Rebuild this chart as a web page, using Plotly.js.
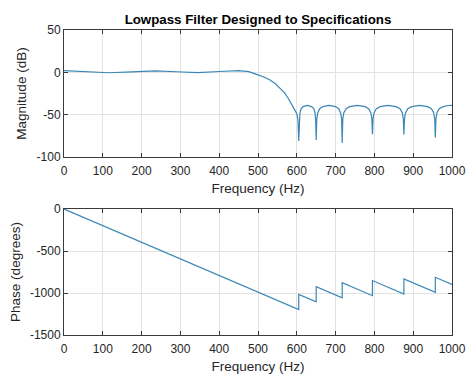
<!DOCTYPE html>
<html>
<head>
<meta charset="utf-8">
<script src="https://cdn.plot.ly/plotly-3.0.1.min.js"></script>
<style>html,body{margin:0;padding:0;background:#fff;}#chart{width:474px;height:382px;}</style>
</head>
<body>
<div id="chart"></div>
<script>
// Magnitude response (dB)
const magFreq = [0, 50, 115, 175, 235, 290, 345, 400, 450, 476, 490, 500, 515, 531, 545, 557, 568, 577, 585, 591, 596, 600, 603, 605,
  606.5, 608, 611, 616, 627, 638, 644, 647, 648.5, 650,
  651.5, 654, 659, 667, 683, 700, 708, 713, 715.5, 717,
  718.5, 721, 727, 736, 756, 776, 785, 791, 793.5, 795,
  796.5, 799, 805, 815, 835, 856, 866, 872, 874.5, 876,
  877.5, 880, 886, 896, 916, 937, 947, 953, 955.5, 957,
  958.5, 961, 967, 977, 990, 1000];
const magDb = [2, 1, -0.5, 0.6, 1.8, 0.7, -0.4, 1.0, 1.9, 0.8, -1, -3, -5.5, -9, -13.5, -18.5, -24, -30, -36, -41.5, -45.5, -49, -56, -81,
  -55, -48, -43, -40.5, -39, -40.5, -43, -48, -55, -80,
  -55, -48, -43, -40.5, -39, -40.5, -43, -48, -55, -83.5,
  -55, -48, -43, -40.5, -39, -40.5, -43, -48, -55, -73,
  -55, -48, -43, -40.5, -39, -40.5, -43, -48, -55, -73.5,
  -55, -48, -43, -40.5, -39, -40.5, -43, -48, -55, -77,
  -55, -48, -43, -40.5, -39.2, -39];

// Phase response (degrees) vertices
const phaseFreq = [0, 605, 605, 650, 650, 717, 717, 795, 795, 876, 876, 957, 957, 1000];
const phaseDeg = [0, -1198, -1018, -1105, -925, -1058, -878, -1032, -852, -1012, -832, -993, -813, -898];

const xTicks = [0, 100, 200, 300, 400, 500, 600, 700, 800, 900, 1000];
const magTicks = [-100, -50, 0, 50];
const phaseTicks = [-1500, -1000, -500, 0];

const lineColor = '#3a87b5';
const axisColor = '#3a3a3a';
const fam = 'Liberation Sans, Arial, sans-serif';
const font = {family: fam, size: 12, color: '#262626'};

function xaxisCfg(anchor) {
  return {
    anchor: anchor, domain: [64/474, 452/474], range: [0, 1000],
    tickvals: xTicks, ticktext: xTicks.map(String),
    showgrid: true, gridcolor: '#e3e3e3', gridwidth: 1,
    showline: true, linecolor: axisColor, linewidth: 1, mirror: 'ticks',
    ticks: 'inside', ticklen: 4, tickcolor: axisColor, ticklabelstandoff: 3,
    zeroline: false, automargin: false,
    tickfont: {family: fam, size: 12, color: '#262626'},
    title: {text: 'Frequency (Hz)', font: {family: fam, size: 13.5, color: '#262626'}, standoff: 6}
  };
}
function yaxisCfg(anchor, domain, range, ticks, title, standoff) {
  return {
    anchor: anchor, domain: domain, range: range,
    tickvals: ticks, ticktext: ticks.map(String),
    showgrid: true, gridcolor: '#e3e3e3', gridwidth: 1,
    showline: true, linecolor: axisColor, linewidth: 1, mirror: 'ticks',
    ticks: 'inside', ticklen: 4, tickcolor: axisColor,
    zeroline: false, automargin: false,
    tickfont: {family: fam, size: 12, color: '#262626'},
    title: {text: title, font: {family: fam, size: 13.5, color: '#262626'}, standoff: standoff}
  };
}

const traces = [
  {x: magFreq, y: magDb, type: 'scatter', mode: 'lines', xaxis: 'x', yaxis: 'y',
   line: {color: lineColor, width: 1.2}, hoverinfo: 'skip'},
  {x: phaseFreq, y: phaseDeg, type: 'scatter', mode: 'lines', xaxis: 'x2', yaxis: 'y2',
   line: {color: lineColor, width: 1.2}, hoverinfo: 'skip'}
];

const layout = {
  width: 474, height: 382,
  margin: {l: 0, r: 0, t: 0, b: 0},
  paper_bgcolor: '#ffffff', plot_bgcolor: '#ffffff',
  showlegend: false, font: font,
  title: {text: '<b>Lowpass Filter Designed to Specifications</b>',
          font: {family: fam, size: 13.3, color: '#000000'},
          x: 258/474, xanchor: 'center', y: 1 - 19/382, yanchor: 'middle'},
  xaxis: xaxisCfg('y'),
  yaxis: yaxisCfg('x', [(382-157)/382, (382-30)/382], [-100, 50], magTicks, 'Magnitude (dB)', 6),
  xaxis2: xaxisCfg('y2'),
  yaxis2: yaxisCfg('x2', [(382-335)/382, (382-209)/382], [-1500, 0], phaseTicks, 'Phase (degrees)', 6)
};

Plotly.newPlot('chart', traces, layout, {staticPlot: true, displayModeBar: false});
</script>
</body>
</html>
